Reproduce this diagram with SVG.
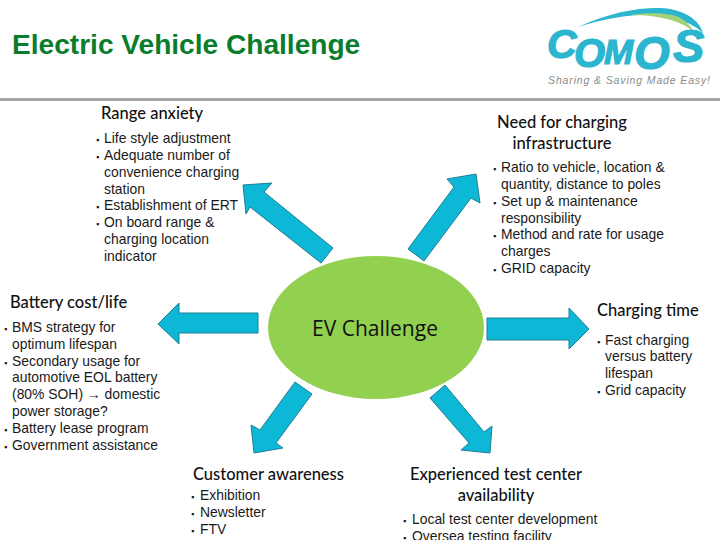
<svg xmlns="http://www.w3.org/2000/svg" width="720" height="540" viewBox="0 0 720 540">
<style>
text{font-family:"Liberation Sans",Arial,sans-serif;fill:#1a1a1a}
.b{font-size:13.9px}
.d{font-size:9px}
.h{font-family:Lato,"Open Sans",sans-serif;font-size:16.500px;font-weight:500;fill:#111}
.l{font-weight:700;font-style:italic;fill:#2bb5cf;stroke:#2bb5cf;stroke-width:1.200px}
.ar{fill:#0db8d6;stroke:#1f7f94;stroke-width:1}
</style>
<rect width="720" height="540" fill="#fff"/>
<g id="header">
<text x="12" y="54" font-size="28.1" font-weight="700" style="fill:#0a7d2c">Electric Vehicle Challenge</text>
<rect x="0" y="98" width="720" height="3" fill="#a6a6a6"/>
</g>
<g id="logo">
<path d="M578 27C615 10 650 6 670 9C688 12 700 22 703 33C690 20 665 14 640 15C620 16 600 20 578 27Z" fill="#2bb5cf"/>
<path d="M630 15C650 12 672 13 680 18C688 22 692 28 693 31C680 21 660 15 630 15Z" fill="#a3d27a"/>
<text class="l" x="547" y="58" font-size="41">C</text>
<text class="l" x="574" y="67" font-size="40">O</text>
<text class="l" x="604" y="64" font-size="35">M</text>
<text class="l" x="634" y="69" font-size="46">O</text>
<text class="l" x="673" y="62" font-size="47">S</text>
<text x="548" y="84" font-size="10.5" font-style="italic" textLength="162" style="fill:#8a8a8a">Sharing &amp; Saving Made Easy!</text>
</g>
<g id="connectors">
<path class="ar" d="M243 185L272 183L264 192L333 248L321 263L250 207L246 214Z"/>
<path class="ar" d="M476 174L447 179L454 187L408 249L424 261L471 198L480 203Z"/>
<path class="ar" d="M158 324L179 303V313H258V333H179V344Z"/>
<path class="ar" d="M589 329L569 308V318H487V340H569V349Z"/>
<path class="ar" d="M254 453L283 448L276 443L312 394L295 382L260 430L251 425Z"/>
<path class="ar" d="M490 453L461 450L469 443L430 398L445 385L484 432L492 426Z"/>
</g>
<g id="center">
<ellipse cx="376" cy="327.500" rx="108" ry="71.500" fill="#92d050"/>
<text x="375" y="336" text-anchor="middle" style="font-family:'Open Sans',sans-serif;font-size:21px;fill:#111">EV Challenge</text>
</g>
<g id="range">
<text class="h" x="101" y="119">Range anxiety</text>
<text class="b" y="143"><tspan class="d" x="96">▪</tspan><tspan x="104">Life style adjustment</tspan></text>
<text class="b" y="160"><tspan class="d" x="96">▪</tspan><tspan x="104">Adequate number of</tspan></text>
<text class="b" x="104" y="177">convenience charging</text>
<text class="b" x="104" y="194">station</text>
<text class="b" y="210"><tspan class="d" x="96">▪</tspan><tspan x="104">Establishment of ERT</tspan></text>
<text class="b" y="227"><tspan class="d" x="96">▪</tspan><tspan x="104">On board range &amp;</tspan></text>
<text class="b" x="104" y="244">charging location</text>
<text class="b" x="104" y="261">indicator</text>
</g>
<g id="infra">
<text class="h" x="562" y="128" text-anchor="middle">Need for charging</text>
<text class="h" x="562" y="149" text-anchor="middle">infrastructure</text>
<text class="b" y="172"><tspan class="d" x="493">▪</tspan><tspan x="501">Ratio to vehicle, location &amp;</tspan></text>
<text class="b" x="501" y="189">quantity, distance to poles</text>
<text class="b" y="206"><tspan class="d" x="493">▪</tspan><tspan x="501">Set up &amp; maintenance</tspan></text>
<text class="b" x="501" y="223">responsibility</text>
<text class="b" y="239"><tspan class="d" x="493">▪</tspan><tspan x="501">Method and rate for usage</tspan></text>
<text class="b" x="501" y="256">charges</text>
<text class="b" y="273"><tspan class="d" x="493">▪</tspan><tspan x="501">GRID capacity</tspan></text>
</g>
<g id="battery">
<text class="h" x="10" y="308">Battery cost/life</text>
<text class="b" y="332"><tspan class="d" x="4">▪</tspan><tspan x="12">BMS strategy for</tspan></text>
<text class="b" x="12" y="349">optimum lifespan</text>
<text class="b" y="366"><tspan class="d" x="4">▪</tspan><tspan x="12">Secondary usage for</tspan></text>
<text class="b" x="12" y="382">automotive EOL battery</text>
<text class="b" x="12" y="399">(80% SOH) → domestic</text>
<text class="b" x="12" y="416">power storage?</text>
<text class="b" y="433"><tspan class="d" x="4">▪</tspan><tspan x="12">Battery lease program</tspan></text>
<text class="b" y="450"><tspan class="d" x="4">▪</tspan><tspan x="12">Government assistance</tspan></text>
</g>
<g id="charging">
<text class="h" x="597" y="316">Charging time</text>
<text class="b" y="345"><tspan class="d" x="597">▪</tspan><tspan x="605">Fast charging</tspan></text>
<text class="b" x="605" y="361">versus battery</text>
<text class="b" x="605" y="378">lifespan</text>
<text class="b" y="395"><tspan class="d" x="597">▪</tspan><tspan x="605">Grid capacity</tspan></text>
</g>
<g id="customer">
<text class="h" x="193" y="480">Customer awareness</text>
<text class="b" y="500"><tspan class="d" x="191">▪</tspan><tspan x="200">Exhibition</tspan></text>
<text class="b" y="517"><tspan class="d" x="191">▪</tspan><tspan x="200">Newsletter</tspan></text>
<text class="b" y="534"><tspan class="d" x="191">▪</tspan><tspan x="200">FTV</tspan></text>
</g>
<g id="test">
<text class="h" x="496" y="480" text-anchor="middle">Experienced test center</text>
<text class="h" x="496" y="501" text-anchor="middle">availability</text>
<text class="b" y="524"><tspan class="d" x="403">▪</tspan><tspan x="412">Local test center development</tspan></text>
<text class="b" y="541"><tspan class="d" x="403">▪</tspan><tspan x="412">Oversea testing facility</tspan></text>
</g>
</svg>
